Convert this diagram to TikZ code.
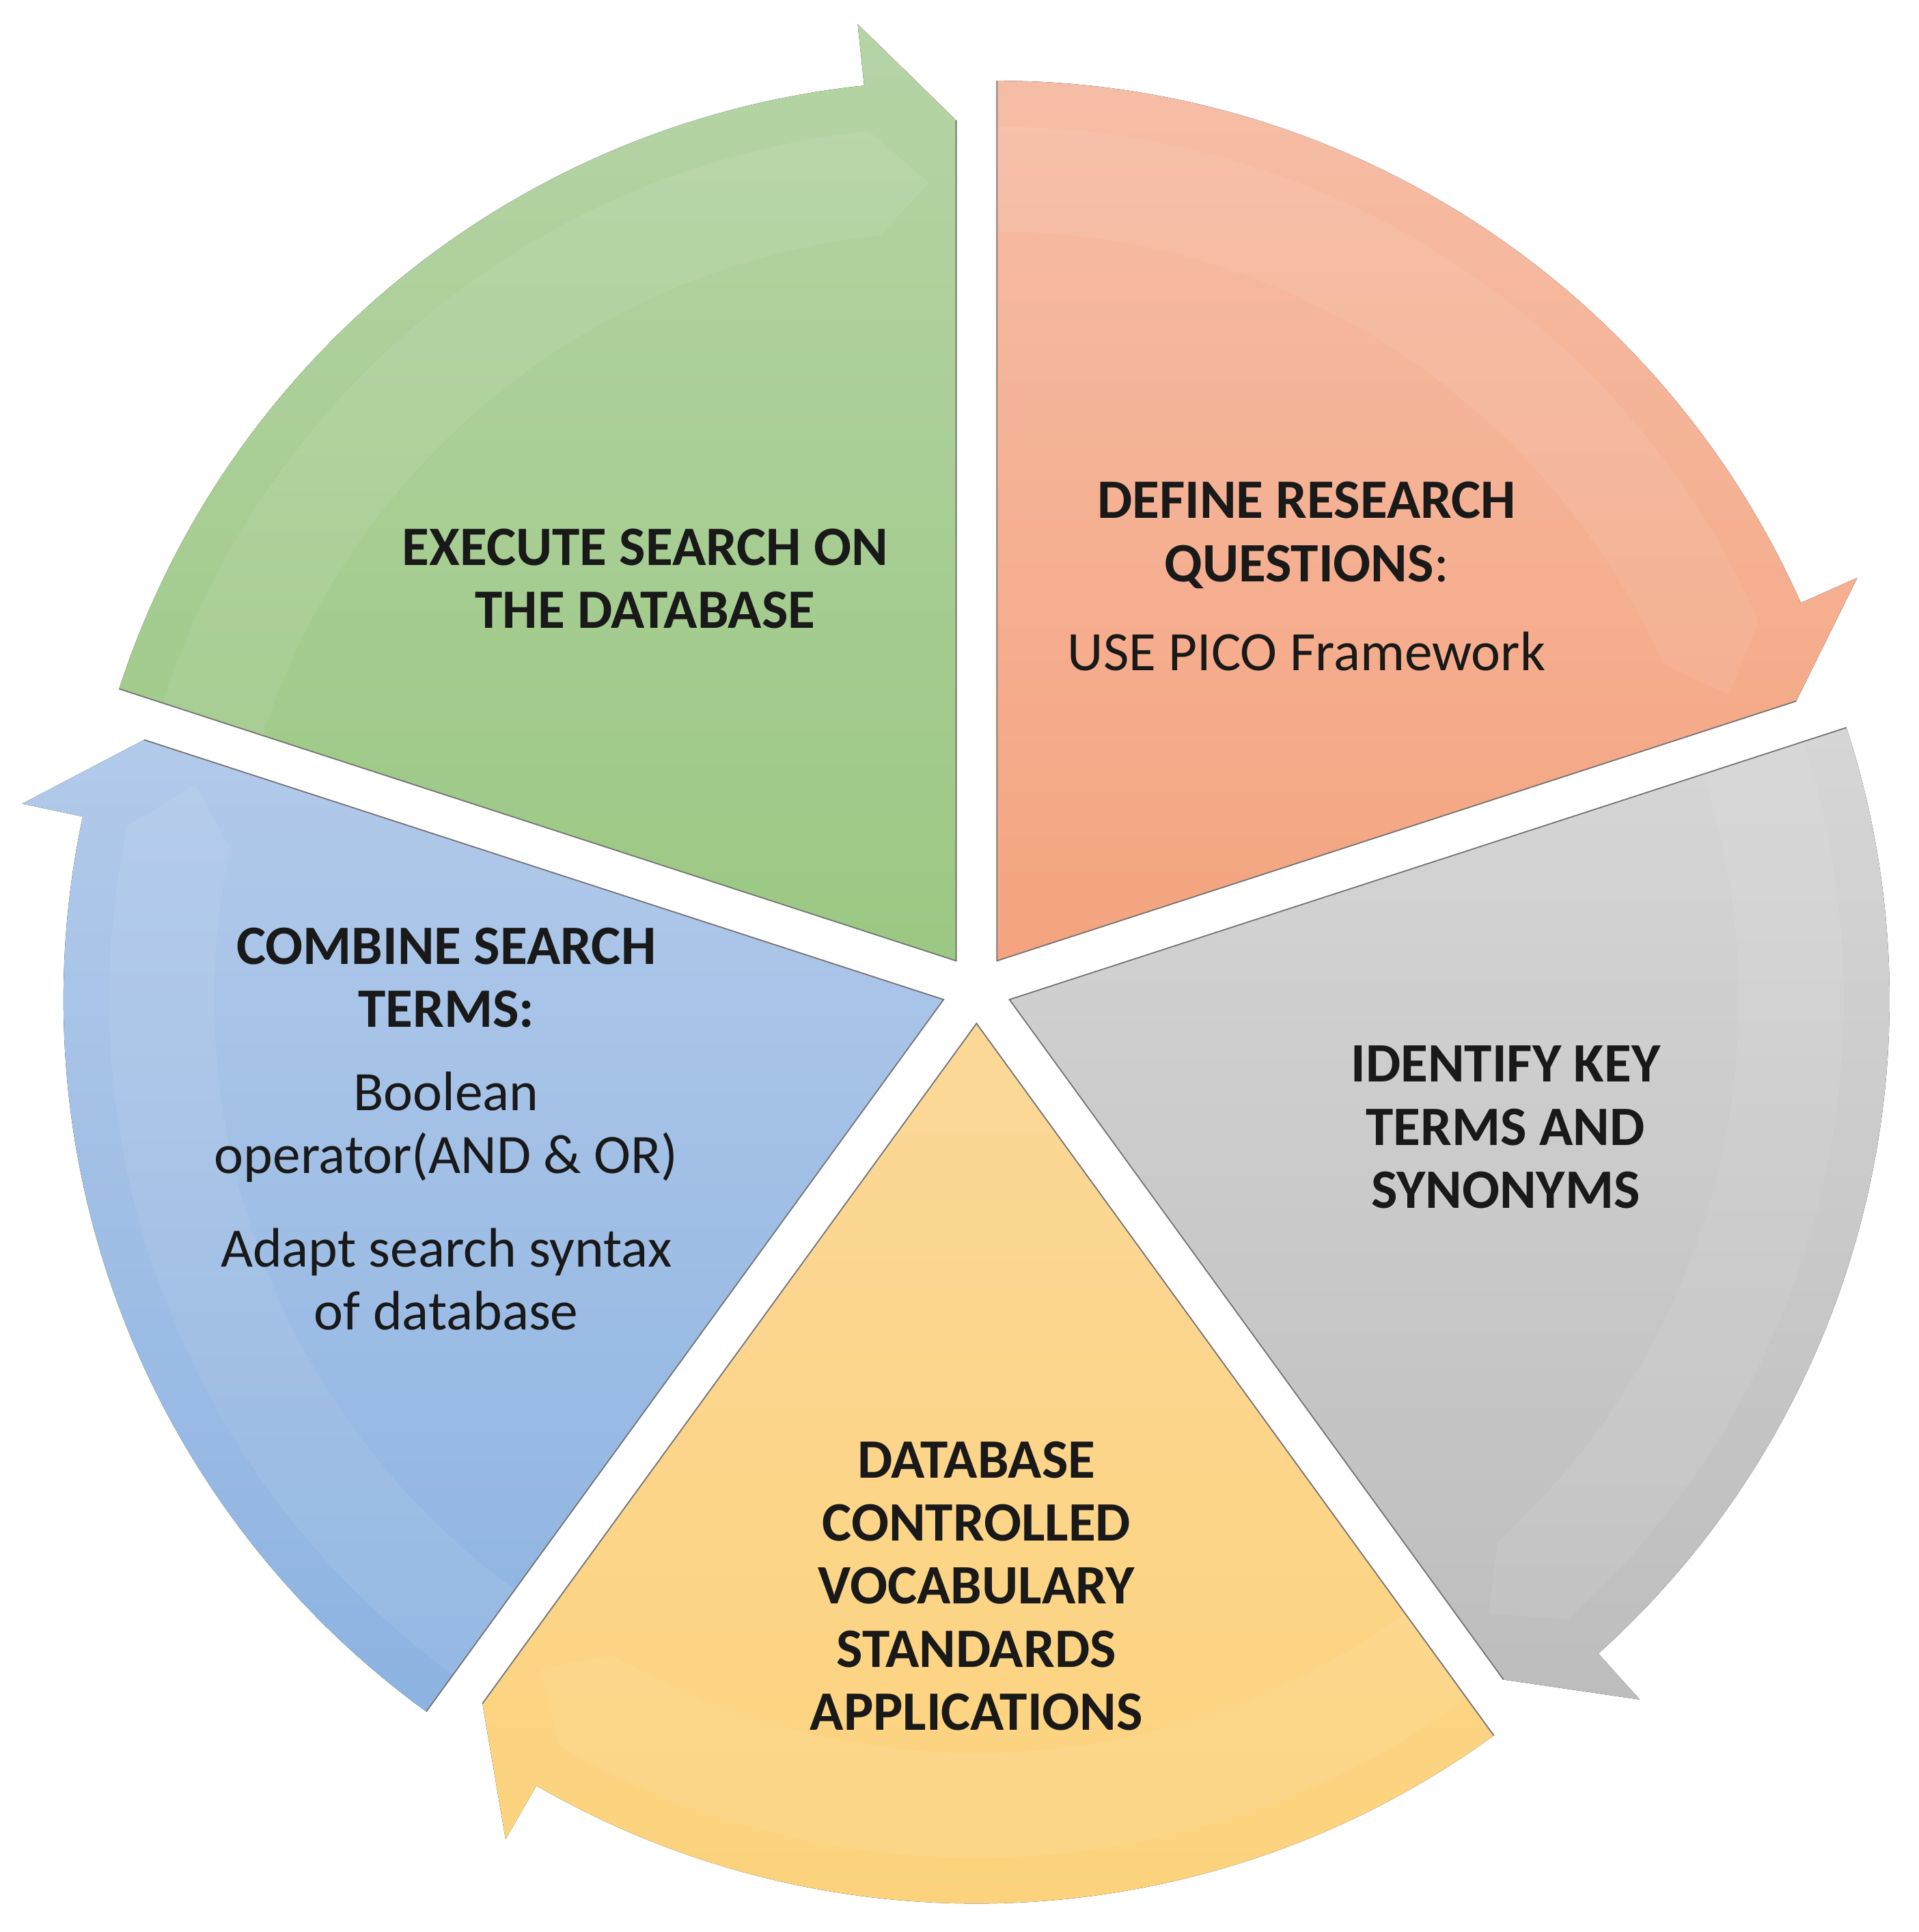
\documentclass[tikz,border=0pt]{standalone}
\usepackage{fontspec}
\setmainfont{Carlito}
\definecolor{rA}{HTML}{F6BDA6}\definecolor{rB}{HTML}{F4A47F}
\definecolor{gA}{HTML}{D6D6D6}\definecolor{gB}{HTML}{BDBDBD}
\definecolor{yA}{HTML}{FCD898}\definecolor{yB}{HTML}{FCD27A}
\definecolor{bA}{HTML}{B2CAEA}\definecolor{bB}{HTML}{8DB3E1}
\definecolor{nA}{HTML}{B6D4A6}\definecolor{nB}{HTML}{9BC883}
\begin{document}
\begin{tikzpicture}[x=1pt,y=1pt,
  lbl/.style={align=center,font=\fontsize{45}{51}\selectfont\bfseries,text=black!90},
  txt/.style={align=center,font=\fontsize{45}{51}\selectfont,text=black!90}]
\useasboundingbox (0,0) rectangle (1552,1563);
\newcommand\segw[4]{%
 \begin{scope}[shift={(790,763)}]
 \begin{scope}[shift={({(#1+#2)/2}:28)}]
  \fill[top color=#3,bottom color=#4] (0,0) -- (#1:712) arc[start angle=#1,end angle=#2+6,radius=712] -- (#2+6:762) -- (#2:680) -- cycle;
  \fill[white,opacity=0.07] (#1:590) arc[start angle=#1,end angle=#2+6,radius=590] -- (#2+6:590) -- (#2+2:630) -- (#2+6:675) arc[start angle=#2+6,end angle=#1,radius=675] -- cycle;
  \draw[black!55,line width=1] (#1:712) -- (0,0) -- (#2:680);
 \end{scope}\end{scope}}
\segw{90}{18}{rA}{rB}
\segw{18}{-54}{gA}{gB}
\segw{-54}{-126}{yA}{yB}
\segw{-126}{-198}{bA}{bB}
\segw{162}{90}{nA}{nB}
\node[lbl] (exe) at (522,1095) {EXECUTE SEARCH ON\\THE DATABASE};
\node[lbl] (def) at (1057,1130) {DEFINE RESEARCH\\QUESTIONS\textmd{:}};
\node[txt] (pico) at (1057,1036) {USE PICO Framework};
\node[lbl] (idf) at (1218,651) {IDENTIFY KEY\\TERMS AND\\SYNONYMS};
\node[lbl] (dbc) at (790,280) {DATABASE\\CONTROLLED\\VOCABULARY\\STANDARDS\\APPLICATIONS};
\node[lbl] (cmb) at (361,772) {COMBINE SEARCH\\TERMS:};
\node[txt] (bool) at (361,651) {Boolean\\operator(AND \& OR)};
\node[txt] (adp) at (361,528) {Adapt search syntax\\of database};
\end{tikzpicture}
\end{document}
